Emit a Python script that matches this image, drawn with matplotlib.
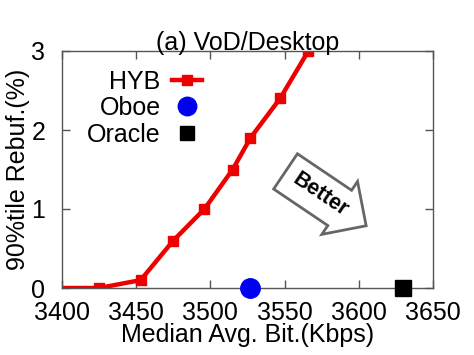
import matplotlib
matplotlib.use("Agg")
import matplotlib.pyplot as plt

plt.rcParams['font.family'] = ['Liberation Sans', 'DejaVu Sans']

# HYB curve (bitrate Kbps, 90%tile rebuffering %)
hyb_x = [3390, 3425, 3453, 3475, 3496, 3515, 3527, 3547, 3566]
hyb_y = [0.0, 0.0, 0.1, 0.6, 1.0, 1.5, 1.9, 2.4, 3.0]
oboe_x = [3527]
oboe_y = [0.0]
oracle_x = [3630]
oracle_y = [0.0]

xticks = [3400, 3450, 3500, 3550, 3600, 3650]
yticks = [0, 1, 2, 3]

fig = plt.figure(figsize=(4.74, 3.55), dpi=100)
ax = fig.add_axes([62 / 474, 1 - 288 / 355, (433 - 62) / 474, (288 - 51) / 355])

ax.plot(hyb_x, hyb_y, color="#ee0000", linewidth=3.2, marker="s", markersize=7,
        label="HYB", clip_on=True)
ax.plot(oboe_x, oboe_y, linestyle="none", marker="o", color="#0000ee",
        markersize=14, label="Oboe", clip_on=False, zorder=5)
ax.plot(oracle_x, oracle_y, linestyle="none", marker="s", color="black",
        markersize=11, label="Oracle", clip_on=False, zorder=5)

ax.set_xlim(3400, 3650)
ax.set_ylim(0, 3)
ax.set_xticks(xticks)
ax.set_yticks(yticks)
ax.tick_params(direction="in", top=True, right=True, labelsize=18, length=6,
               width=1, color="#555555")
ax.tick_params(axis="x", pad=9)
ax.tick_params(axis="y", pad=12)
for s in ax.spines.values():
    s.set_color("#555555")
    s.set_linewidth(1)

ax.set_xlabel("Median Avg. Bit.(Kbps)", fontsize=18, labelpad=-1)
ax.set_ylabel("90%tile Rebuf.(%)", fontsize=18, labelpad=1)
ax.set_title("(a) VoD/Desktop", fontsize=18, pad=1)

ax.legend(loc="upper left", bbox_to_anchor=(0.02, 0.995), markerfirst=False,
          frameon=False, fontsize=18, handlelength=1.2, handletextpad=0.45,
          labelspacing=0.1, borderpad=0.2, markerscale=0.95)

ax.text(3574, 1.18, "Better", rotation=-34, fontsize=15.5, fontweight="bold",
        ha="center", va="center",
        bbox=dict(boxstyle="rarrow,pad=0.5", fc="white", ec="#666666", lw=2))

fig.savefig("out.png", dpi=100)
